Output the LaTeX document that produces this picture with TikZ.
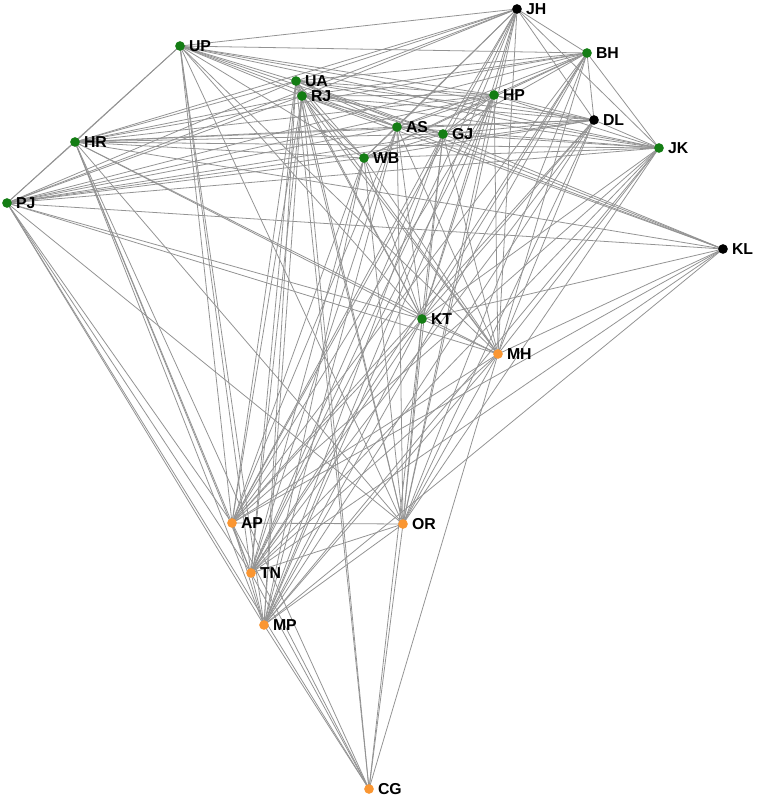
\documentclass[tikz,border=0pt]{standalone}
\usepackage{fontspec}
\setmainfont{Liberation Sans}
\definecolor{gn}{RGB}{20,125,20}
\definecolor{og}{RGB}{250,150,50}
\begin{document}
\begin{tikzpicture}[x=0.02cm,y=-0.02cm,
  edge/.style={draw=gray!85,line width=0.45pt},
  dot/.style={circle,inner sep=0pt,minimum size=5.5pt},
  lab/.style={anchor=west,font=\fontsize{9}{10}\selectfont\bfseries,inner sep=1pt}]
\useasboundingbox (0,0) rectangle (758,798);
\foreach \n/\x/\y in {JH/517/9,UP/180/46,BH/587/53,UA/296/81,HP/494/95,RJ/302/96,DL/594/120,AS/397/127,GJ/443/134,HR/75/142,JK/659/148,WB/364/158,PJ/7/203,KL/723/249,KT/422/319,MH/498/354,AP/232/523,OR/403/524,TN/251/573,MP/264/625,CG/369/789}
  \coordinate (\n) at (\x,\y);
\def\L{JH,UP,BH,UA,HP,RJ,DL,AS,GJ,HR,JK,WB,PJ,KT,MH,AP,OR,TN,MP}
\foreach \a [count=\i] in \L {
  \foreach \b [count=\j] in \L {
    \ifnum\j>\i \draw[edge] (\a) -- (\b);\fi
  }
}
\foreach \b in {UA,RJ,AS,GJ,HR,PJ,KT,MH,AP,TN,MP} \draw[edge] (KL) -- (\b);
\foreach \b in {PJ,HR,AP,TN,MP,UA,RJ,OR,KT,MH} \draw[edge] (CG) -- (\b);
\foreach \n/\c in {JH/black,UP/gn,BH/gn,UA/gn,HP/gn,RJ/gn,DL/black,AS/gn,GJ/gn,HR/gn,JK/gn,WB/gn,PJ/gn,KL/black,KT/gn,MH/og,AP/og,OR/og,TN/og,MP/og,CG/og}
  \node[dot,fill=\c] (n\n) at (\n) {};
\foreach \n in {JH,UP,BH,UA,HP,RJ,DL,AS,GJ,HR,JK,WB,PJ,KL,KT,MH,AP,OR,TN,MP,CG}
  \node[lab] at ([xshift=1pt]n\n.east) {\n};
\end{tikzpicture}
\end{document}
